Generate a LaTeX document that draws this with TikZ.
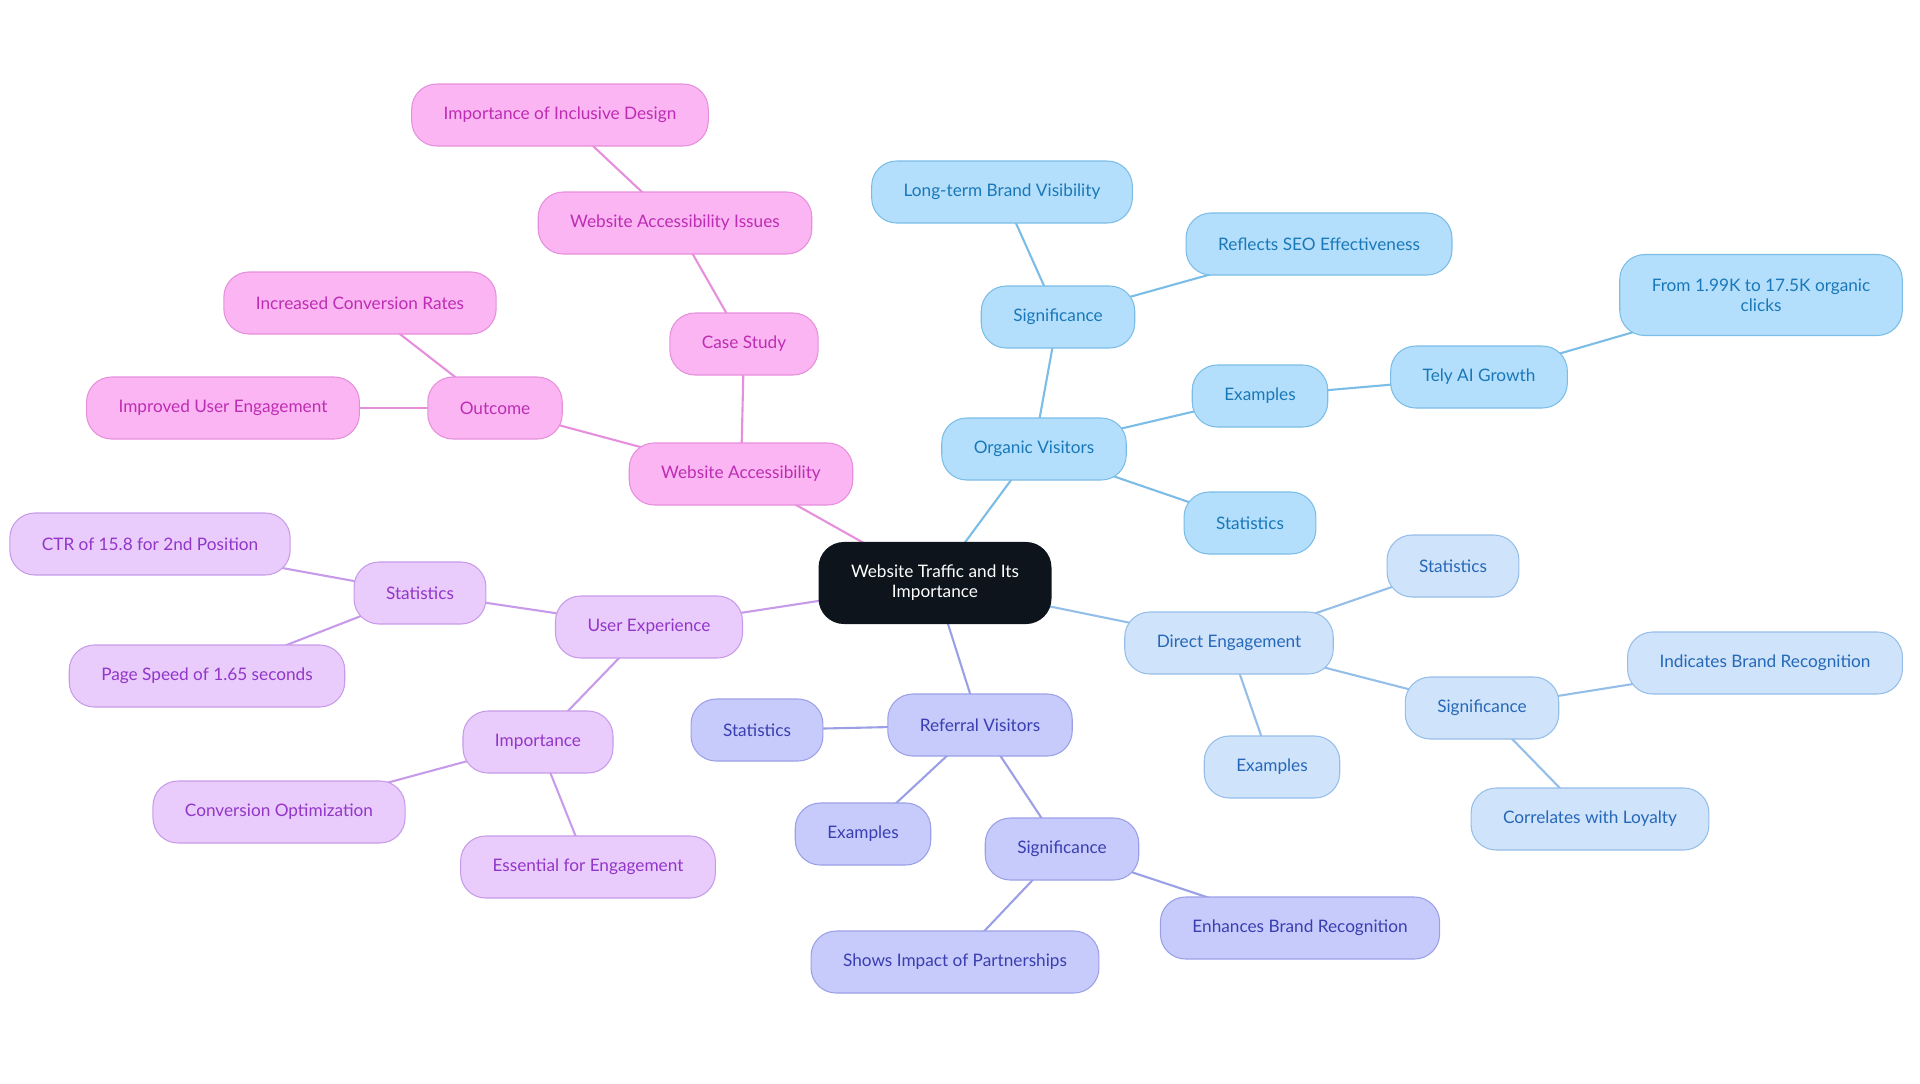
\documentclass[tikz,border=0pt]{standalone}
\usepackage{fontspec}
\setmainfont{Lato}
\usetikzlibrary{positioning, backgrounds}
\definecolor{CoreDark}{HTML}{0D141C}
\definecolor{PinkFill}{HTML}{FBB5F3}
\definecolor{PinkLine}{HTML}{E68FDD}
\definecolor{PinkText}{HTML}{BD2DB3}
\definecolor{PlumFill}{HTML}{E9CCFB}
\definecolor{PlumLine}{HTML}{C79BEA}
\definecolor{PlumText}{HTML}{9236C8}
\definecolor{LavFill}{HTML}{C7CBFB}
\definecolor{LavLine}{HTML}{9BA0E6}
\definecolor{LavText}{HTML}{3A3EB0}
\definecolor{IceFill}{HTML}{CFE3FB}
\definecolor{IceLine}{HTML}{95BEE8}
\definecolor{IceText}{HTML}{2668B8}
\definecolor{SkyFill}{HTML}{B3DFFC}
\definecolor{SkyLine}{HTML}{7BBDE6}
\definecolor{SkyText}{HTML}{1A78B8}

\begin{document}
\begin{tikzpicture}[
    x=0.02cm, y=-0.02cm,
    font=\fontsize{9.8}{11.3}\selectfont,
    topicbox/.style={rectangle, rounded corners=0.5cm, line width=0.6pt, align=center, minimum height=1.24cm, inner xsep=0.64cm},
    pinkbox/.style={topicbox, draw=PinkLine, fill=PinkFill, text=PinkText},
    plumbox/.style={topicbox, draw=PlumLine, fill=PlumFill, text=PlumText},
    lavbox/.style={topicbox, draw=LavLine, fill=LavFill, text=LavText},
    icebox/.style={topicbox, draw=IceLine, fill=IceFill, text=IceText},
    skybox/.style={topicbox, draw=SkyLine, fill=SkyFill, text=SkyText},
    pinklink/.style={line width=1.2pt, PinkLine},
    plumlink/.style={line width=1.2pt, PlumLine},
    lavlink/.style={line width=1.2pt, LavLine},
    icelink/.style={line width=1.2pt, IceLine},
    skylink/.style={line width=1.2pt, SkyLine}
]
    \useasboundingbox (0,0) rectangle (1920,1083);

    % Centre
    \node (core) [topicbox, fill=CoreDark, draw=CoreDark, text=white, minimum width=4.62cm, minimum height=1.62cm] at (935,583) {Website Traffic and Its\\Importance};

    % Website Accessibility
    \node (access) [pinkbox] at (741,474) {Website Accessibility};
    \node (case) [pinkbox] at (744,344) {Case Study};
    \node (issues) [pinkbox] at (675,223) {Website Accessibility Issues};
    \node (inclusive) [pinkbox] at (560,115) {Importance of Inclusive Design};
    \node (outcome) [pinkbox] at (495,408) {Outcome};
    \node (conversion) [pinkbox] at (360,303) {Increased Conversion Rates};
    \node (engage) [pinkbox] at (223,408) {Improved User Engagement};

    % User Experience
    \node (ux) [plumbox] at (649,627) {User Experience};
    \node (ux_stats) [plumbox] at (420,593) {Statistics};
    \node (ctr) [plumbox] at (150,544) {CTR of 15.8 for 2nd Position};
    \node (speed) [plumbox] at (207,676) {Page Speed of 1.65 seconds};
    \node (ux_imp) [plumbox] at (538,742) {Importance};
    \node (optim) [plumbox] at (279,812) {Conversion Optimization};
    \node (essential) [plumbox] at (588,867) {Essential for Engagement};

    % Referral Visitors
    \node (referral) [lavbox] at (980,725) {Referral Visitors};
    \node (ref_stats) [lavbox] at (757,730) {Statistics};
    \node (ref_ex) [lavbox] at (863,834) {Examples};
    \node (ref_sig) [lavbox] at (1062,849) {Significance};
    \node (partner) [lavbox] at (955,962) {Shows Impact of Partnerships};
    \node (enhance) [lavbox] at (1300,928) {Enhances Brand Recognition};

    % Direct Engagement
    \node (direct) [icebox] at (1229,643) {Direct Engagement};
    \node (dir_stats) [icebox] at (1453,566) {Statistics};
    \node (dir_ex) [icebox] at (1272,767) {Examples};
    \node (dir_sig) [icebox] at (1482,708) {Significance};
    \node (indicate) [icebox] at (1765,663) {Indicates Brand Recognition};
    \node (loyalty) [icebox] at (1590,819) {Correlates with Loyalty};

    % Organic Visitors
    \node (organic) [skybox] at (1034,449) {Organic Visitors};
    \node (org_sig) [skybox] at (1058,317) {Significance};
    \node (longterm) [skybox] at (1002,192) {Long-term Brand Visibility};
    \node (seo) [skybox] at (1319,244) {Reflects SEO Effectiveness};
    \node (org_ex) [skybox] at (1260,396) {Examples};
    \node (tely) [skybox] at (1479,377) {Tely AI Growth};
    \node (clicks) [skybox, minimum height=1.62cm] at (1761,295) {From 1.99K to 17.5K organic\\clicks};
    \node (org_stats) [skybox] at (1250,523) {Statistics};

    % Connections
    \begin{scope}[on background layer]
        \draw [pinklink] (core.center) -- (access.center);
        \draw [pinklink] (access.center) -- (case.center);
        \draw [pinklink] (case.center) -- (issues.center);
        \draw [pinklink] (issues.center) -- (inclusive.center);
        \draw [pinklink] (access.center) -- (outcome.center);
        \draw [pinklink] (outcome.center) -- (conversion.center);
        \draw [pinklink] (outcome.center) -- (engage.center);

        \draw [plumlink] (core.center) -- (ux.center);
        \draw [plumlink] (ux.center) -- (ux_stats.center);
        \draw [plumlink] (ux_stats.center) -- (ctr.center);
        \draw [plumlink] (ux_stats.center) -- (speed.center);
        \draw [plumlink] (ux.center) -- (ux_imp.center);
        \draw [plumlink] (ux_imp.center) -- (optim.center);
        \draw [plumlink] (ux_imp.center) -- (essential.center);

        \draw [lavlink] (core.center) -- (referral.center);
        \draw [lavlink] (referral.center) -- (ref_stats.center);
        \draw [lavlink] (referral.center) -- (ref_ex.center);
        \draw [lavlink] (referral.center) -- (ref_sig.center);
        \draw [lavlink] (ref_sig.center) -- (partner.center);
        \draw [lavlink] (ref_sig.center) -- (enhance.center);

        \draw [icelink] (core.center) -- (direct.center);
        \draw [icelink] (direct.center) -- (dir_stats.center);
        \draw [icelink] (direct.center) -- (dir_ex.center);
        \draw [icelink] (direct.center) -- (dir_sig.center);
        \draw [icelink] (dir_sig.center) -- (indicate.center);
        \draw [icelink] (dir_sig.center) -- (loyalty.center);

        \draw [skylink] (core.center) -- (organic.center);
        \draw [skylink] (organic.center) -- (org_sig.center);
        \draw [skylink] (org_sig.center) -- (longterm.center);
        \draw [skylink] (org_sig.center) -- (seo.center);
        \draw [skylink] (organic.center) -- (org_ex.center);
        \draw [skylink] (org_ex.center) -- (tely.center);
        \draw [skylink] (tely.center) -- (clicks.center);
        \draw [skylink] (organic.center) -- (org_stats.center);
    \end{scope}

\end{tikzpicture}
\end{document}
